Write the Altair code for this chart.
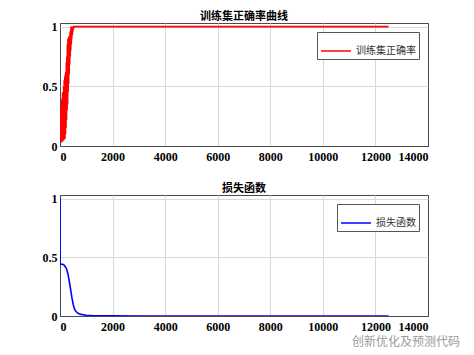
import altair as alt
import pandas as pd

# ---- data ----
acc_iter = [0, 10, 20, 30, 40, 50, 60, 70, 80, 90, 100, 110, 120, 130, 140, 150, 160, 170,
            180, 190, 200, 210, 220, 230, 240, 250, 260, 270, 280, 290, 300, 310, 320, 330,
            340, 350, 360, 370, 380, 390, 400, 410, 420, 430, 440, 450, 460, 470, 480, 490,
            500, 510, 520, 12500]
acc_vals = [0.30, 0.05, 0.33, 0.04, 0.28, 0.06, 0.38, 0.03, 0.40, 0.05, 0.45, 0.04, 0.42,
            0.06, 0.50, 0.05, 0.55, 0.08, 0.58, 0.06, 0.60, 0.10, 0.62, 0.15, 0.70, 0.22,
            0.75, 0.30, 0.85, 0.35, 0.90, 0.45, 0.88, 0.52, 0.92, 0.60, 0.90, 0.68, 0.95,
            0.75, 0.97, 0.80, 1.00, 0.85, 0.98, 0.90, 1.00, 0.93, 1.00, 0.96, 1.00, 0.98,
            1.00, 1.00]
loss_iter = [0, 8, 100, 150, 200, 250, 300, 350, 400, 450, 500, 550, 600, 650, 700, 800,
             1000, 1200, 1500, 2000, 3000, 6000, 12500]
loss_vals = [1.0, 0.44, 0.44, 0.435, 0.42, 0.40, 0.36, 0.30, 0.23, 0.16, 0.10, 0.06, 0.04,
             0.03, 0.022, 0.014, 0.007, 0.004, 0.002, 0.001, 0.0005, 0.0002, 0.0001]

x_ticks = [0, 2000, 4000, 6000, 8000, 10000, 12000, 14000]
y_ticks = [0, 0.5, 1]

acc_name = "训练集正确率"
loss_name = "损失函数"
acc_title = "训练集正确率曲线"
loss_title = "损失函数"
watermark = "创新优化及预测代码"

acc_df = pd.DataFrame({"iter": acc_iter, "value": acc_vals, "series": acc_name})
loss_df = pd.DataFrame({"iter": loss_iter, "value": loss_vals, "series": loss_name})

W, H1, H2 = 368, 123, 121
NUM_FONT = "Liberation Serif"
CJK = "Noto Sans CJK SC"
FRAME = "#4a4a4a"
GRID = "#d8d8d8"


def panel(df, title, name, color, h):
    x = alt.X("iter:Q", scale=alt.Scale(domain=[0, 14000], nice=False),
              axis=alt.Axis(values=x_ticks, title=None, format="d", labelPadding=5,
                            gridColor={"condition": {"test": "datum.value === 0 || datum.value === 14000",
                                                     "value": FRAME},
                                       "value": GRID}))
    y = alt.Y("value:Q", scale=alt.Scale(domain=[0, 1.03], nice=False),
              axis=alt.Axis(values=y_ticks, title=None, format="~g", labelPadding=3,
                            gridColor={"condition": {"test": "datum.value === 0",
                                                     "value": FRAME},
                                       "value": GRID}))
    line = alt.Chart(df).mark_line(strokeWidth=1.6, clip=True).encode(
        x=x, y=y,
        color=alt.Color("series:N",
                        scale=alt.Scale(domain=[name], range=[color]),
                        legend=alt.Legend(title=None, orient="top-right", offset=9,
                                          symbolType="stroke", symbolSize=900,
                                          symbolStrokeWidth=1.5,
                                          labelFont=CJK, labelFontSize=10,
                                          labelColor="#333",
                                          strokeColor="#555", fillColor="white",
                                          padding=3, cornerRadius=0))
    )
    return alt.layer(line).properties(
        width=W, height=h,
        title=alt.TitleParams(title, font=CJK, fontSize=11, fontWeight="bold",
                              color="black", offset=-1)
    )


top = panel(acc_df, acc_title, acc_name, "#ff0000", H1)
bot_line = panel(loss_df, loss_title, loss_name, "#0000ff", H2)

wm = alt.Chart(pd.DataFrame({"t": [watermark]})).mark_text(
    align="left", baseline="middle", font=CJK, fontSize=12, color="#8a8a8a",
    opacity=0.85
).encode(x=alt.value(292), y=alt.value(147), text="t:N")

bottom = alt.layer(bot_line, wm).properties(width=W, height=H2)

chart = alt.vconcat(top, bottom, spacing=19).resolve_scale(color="independent").configure(
    background="white",
    padding={"left": 41, "top": 10, "right": 5, "bottom": 5},
).configure_view(
    stroke=FRAME, strokeWidth=1
).configure_axis(
    domain=False, ticks=False, grid=True, gridWidth=1,
    labelFont=NUM_FONT, labelFontSize=12, labelFontWeight="bold", labelColor="black"
)

chart.save("out.html", embed_options={"renderer": "svg", "actions": False})
